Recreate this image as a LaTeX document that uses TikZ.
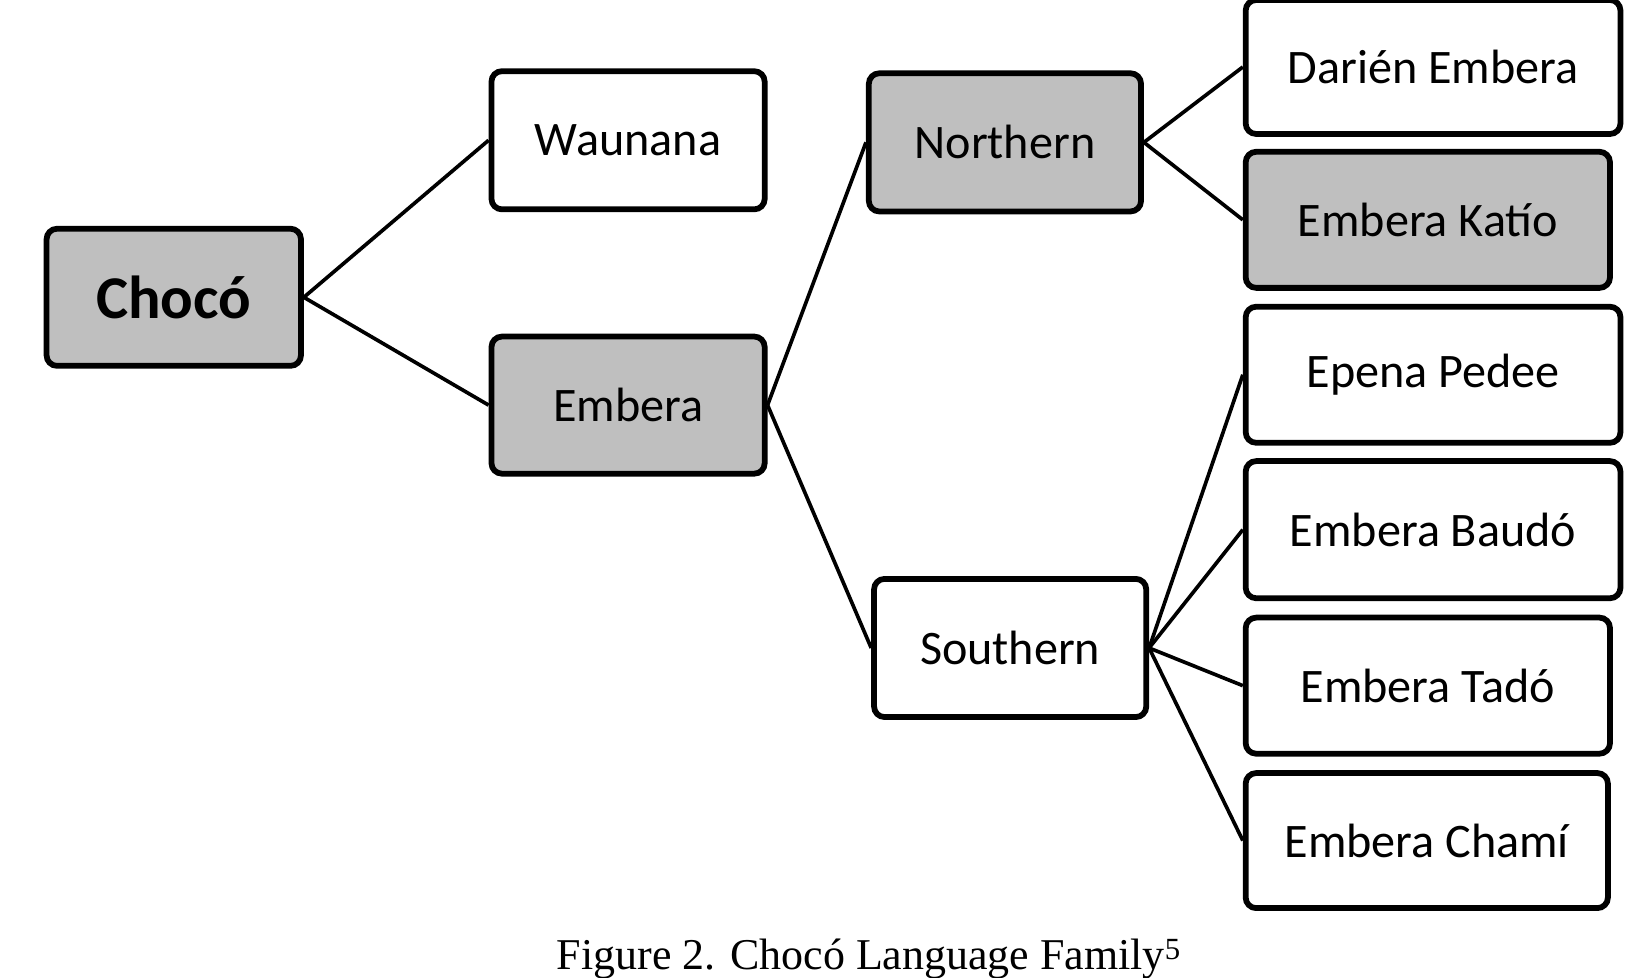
\documentclass[tikz,border=0pt]{standalone}
\usepackage{fontspec}
\setmainfont{Carlito}
\newfontfamily\capfont{Liberation Serif}
\begin{document}
\begin{tikzpicture}[x=1pt,y=-1pt,
  box/.style={draw=black,line width=5.5pt,rounded corners=10pt,fill=white,inner sep=0pt,font=\fontsize{46}{50}\selectfont},
  gbox/.style={box,fill=gray!50},
  ln/.style={line width=3.5pt}]
\useasboundingbox (0,0) rectangle (1560,934);
\newcommand\bx[6]{\node[#1,minimum width=#4pt,minimum height=#5pt] (#2) at (#3) {#6};}
\bx{gbox}{choco}{166,284}{243}{131}{\fontsize{58}{60}\selectfont\bfseries Chocó}
\bx{box}{wau}{600,134}{261}{132}{Waunana}
\bx{gbox}{emb}{600,387}{261}{131}{Embera}
\bx{gbox}{nor}{960,136}{260}{132}{Northern}
\bx{box}{sou}{965,619}{260}{132}{Southern}
\bx{box}{dar}{1369,64}{358}{128}{Darién Embera}
\bx{gbox}{kat}{1364,210}{348}{130}{Embera Katío}
\bx{box}{epe}{1369,358}{358}{130}{Epena Pedee}
\bx{box}{bau}{1369,506}{358}{131}{Embera Baudó}
\bx{box}{tad}{1364,655}{348}{130}{Embera Tadó}
\bx{box}{cha}{1363,803}{346}{129}{Embera Chamí}
\draw[ln] (choco.east) -- (wau.west);
\draw[ln] (choco.east) -- (emb.west);
\draw[ln] (emb.east) -- (nor.west);
\draw[ln] (emb.east) -- (sou.west);
\foreach \t in {dar,kat} \draw[ln] (nor.east) -- (\t.west);
\foreach \t in {epe,bau,tad,cha} \draw[ln] (sou.east) -- (\t.west);
\node[font=\capfont\fontsize{42}{44}\selectfont] (cap) at (830,916) {Figure 2. Chocó Language Family\textsuperscript{5}};
\end{tikzpicture}
\end{document}
